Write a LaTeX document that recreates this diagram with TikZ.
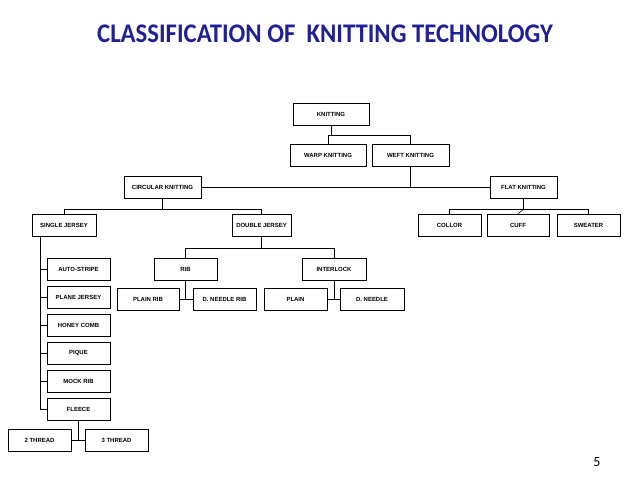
\documentclass[tikz,border=0pt]{standalone}
\usepackage{fontspec}
\setmainfont{Carlito}
\newfontfamily\boxfont{Liberation Sans}
\definecolor{titleblue}{RGB}{32,32,150}
\begin{document}
\begin{tikzpicture}[x=1bp,y=-1bp,
  bx/.style={draw,line width=0.6bp,minimum height=22bp,inner sep=0pt,font=\boxfont\bfseries\fontsize{6}{7}\selectfont},
  ln/.style={line width=0.6bp}]
\useasboundingbox[fill=white] (0,0) rectangle (638,478);
\node[font=\bfseries\fontsize{27}{30}\selectfont,text=titleblue] (title) at (325,34) {\scalebox{0.92}[1]{CLASSIFICATION OF \ KNITTING TECHNOLOGY}};
\node[font=\fontsize{14}{16}\selectfont] (pg) at (597,462) {5};
\newcommand\bxx[5]{\node[bx,minimum width={(#3-#2)*1bp}] (#1) at ({(#2+#3)/2},#4) {#5};}
\bxx{kn}{293}{369}{114}{KNITTING}
\bxx{warp}{290}{366}{155}{WARP KNITTING}
\bxx{weft}{372}{449}{155}{WEFT KNITTING}
\bxx{circ}{124}{201}{187}{CIRCULAR KNITTING}
\bxx{flat}{490}{557}{187}{FLAT KNITTING}
\bxx{sj}{32}{96}{225}{SINGLE JERSEY}
\bxx{dj}{232}{291}{225}{DOUBLE JERSEY}
\bxx{col}{418}{481}{225}{COLLOR}
\bxx{cuff}{487}{549}{225}{CUFF}
\bxx{sw}{557}{620}{225}{SWEATER}
\bxx{rib}{154}{217}{269}{RIB}
\bxx{il}{302}{366}{269}{INTERLOCK}
\bxx{prib}{117}{179}{299}{PLAIN RIB}
\bxx{dnrib}{193}{256}{299}{D. NEEDLE RIB}
\bxx{plain}{264}{327}{299}{PLAIN}
\bxx{dn}{340}{404}{299}{D. NEEDLE}
\bxx{auto}{47}{110}{269}{AUTO-STRIPE}
\bxx{plane}{47}{110}{297}{PLANE JERSEY}
\bxx{honey}{47}{110}{325}{HONEY COMB}
\bxx{pique}{47}{110}{353}{PIQUE}
\bxx{mock}{47}{110}{381}{MOCK RIB}
\bxx{fleece}{47}{110}{409}{FLEECE}
\bxx{t2}{8}{71}{440}{2 THREAD}
\bxx{t3}{85}{148}{440}{3 THREAD}
% connectors
\draw[ln] (kn.south) -- ++(0,10) -| (warp.north);
\draw[ln] (kn.south) ++(0,10) -| (weft.north);
\draw[ln] (circ.east) -- (flat.west);
\draw[ln] (weft.south) -- (weft.south |- circ.east);
\draw[ln] (circ.south) -- ++(0,11) coordinate (c1) -| (sj.north);
\draw[ln] (c1) -| (dj.north);
\draw[ln] (flat.south) -- ++(0,11) coordinate (f1) -| (col.north);
\draw[ln] (f1) -| (sw.north);
\draw[ln] (f1) -- (cuff.north);
\draw[ln] (dj.south) -- ++(0,12) coordinate (d1) -| (rib.north);
\draw[ln] (d1) -| (il.north);
\draw[ln] (rib.south) -- (rib.south |- prib.east) coordinate (r1);
\draw[ln] (prib.east) -- (dnrib.west);
\draw[ln] (il.south) -- (il.south |- plain.east);
\draw[ln] (plain.east) -- (dn.west);
\coordinate (sjx) at ([xshift=-24bp]sj.south);
\draw[ln] (sjx) -- (sjx |- fleece.west) -- (fleece.west);
\foreach \n in {auto,plane,honey,pique,mock} \draw[ln] (sjx |- \n.west) -- (\n.west);
\draw[ln] (fleece.south) -- (fleece.south |- t2.east);
\draw[ln] (t2.east) -- (t3.west);
\end{tikzpicture}
\end{document}
